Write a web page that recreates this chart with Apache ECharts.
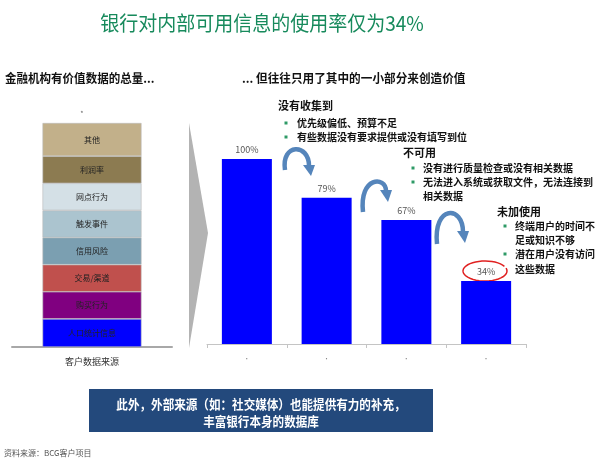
<!DOCTYPE html>
<html><head><meta charset="utf-8">
<script src="https://cdn.jsdelivr.net/npm/echarts@6/dist/echarts.min.js"></script>
<style>html,body{margin:0;padding:0;background:#fff}#c{width:600px;height:464px}</style>
</head><body><div id="c"></div>
<script>
const titleText = '银行对内部可用信息的使用率仅为34%';
const leftHeading = '金融机构有价值数据的总量...';
const rightHeading = '... 但往往只用了其中的一小部分来创造价值';
const leftCategories = ['客户数据来源'];
const segmentNames = ['人口统计信息', '购买行为', '交易/渠道', '信用风险', '触发事件', '网点行为', '利润率', '其他'];
const segmentValues = [28, 27, 27, 27, 27, 27, 27, 33];
const segmentColors = ['#0000ff', '#800080', '#c0504d', '#7b9fb1', '#abc4cf', '#d4e0e6', '#8c7b51', '#c2b08a'];
const stageTicks = ['•', '•', '•', '•'];
const usageValues = [100, 79, 67, 34];
const note1Title = '没有收集到';
const note1Items = ['优先级偏低、预算不足', '有些数据没有要求提供或没有填写到位'];
const note2Title = '不可用';
const note2Lines = ['没有进行质量检查或没有相关数据', '无法进入系统或获取文件，无法连接到', '相关数据'];
const note3Title = '未加使用';
const note3Lines = ['终端用户的时间不', '足或知识不够', '潜在用户没有访问', '这些数据'];
const boxLines = ['此外，外部来源（如：社交媒体）也能提供有力的补充，', '丰富银行本身的数据库'];
const sourceText = '资料来源：BCG客户项目';

const FONT = '"Noto Sans CJK SC", "Noto Sans", sans-serif';
const chart = echarts.init(document.getElementById('c'), null, {renderer: 'canvas'});

const stackSeries = segmentNames.map((n, i) => ({
  name: n, type: 'bar', stack: 'total', xAxisIndex: 0, yAxisIndex: 0,
  barWidth: 99, data: [segmentValues[i]],
  itemStyle: {color: segmentColors[i], borderColor: '#b8b8b8', borderWidth: 0.6},
  label: {show: true, position: 'inside', formatter: n, fontSize: 8, color: '#222', fontFamily: FONT},
  silent: true
}));

function txt(x, y, text, font, fill, align, sx) {
  return {type: 'text', x: x, y: y, scaleX: sx || 1, silent: true,
    style: {text: text, font: font, fill: fill || '#111', textAlign: align || 'left', textVerticalAlign: 'middle'}};
}
function bullet(x, y) {
  return {type: 'rect', silent: true, shape: {x: x - 1.5, y: y - 1.5, width: 3, height: 3}, style: {fill: '#2e9a66'}};
}
function arrow(t, c1, c2, e, tip) {
  return [
    {type: 'bezierCurve', silent: true,
      shape: {x1: t[0], y1: t[1], cpx1: c1[0], cpy1: c1[1], cpx2: c2[0], cpy2: c2[1], x2: e[0], y2: e[1]},
      style: {stroke: '#5585bb', lineWidth: 4.5, fill: null}},
    {type: 'polygon', silent: true,
      shape: {points: [[e[0] - 6, e[1] - 1], [e[0] + 6, e[1] - 1], tip]},
      style: {fill: '#5585bb'}}
  ];
}
const ellipsePts = [];
for (let k = 0; k <= 40; k++) {
  const a = -0.3 + k / 40 * Math.PI * 2 * 0.97;
  ellipsePts.push([485 + 22 * Math.cos(a), 271 + 10 * Math.sin(a)]);
}

const bf = 'bold 10px ' + FONT;
const hf = 'bold 11px ' + FONT;
const graphics = [
  txt(262, 23, titleText, '20px ' + FONT, '#178a5c', 'center', 0.95),
  txt(5, 78, leftHeading, 'bold 12px ' + FONT, '#111', 'left', 0.96),
  txt(242, 78, rightHeading, 'bold 12px ' + FONT, '#111', 'left', 0.97),
  txt(82, 113, '*', '7px ' + FONT, '#666', 'center'),
  {type: 'polygon', silent: true, shape: {points: [[189, 123], [208, 233], [189, 348]]}, style: {fill: '#b3b3b3'}},
  txt(278, 106, note1Title, hf),
  bullet(286, 123), txt(297, 123, note1Items[0], bf),
  bullet(286, 137), txt(297, 137, note1Items[1], bf),
  txt(403, 153, note2Title, hf),
  bullet(413, 168), txt(423, 168, note2Lines[0], bf),
  bullet(413, 182), txt(423, 182, note2Lines[1], bf),
  txt(423, 196, note2Lines[2], bf),
  txt(497, 212, note3Title, hf),
  bullet(505, 226), txt(515, 226, note3Lines[0], bf),
  txt(515, 240, note3Lines[1], bf),
  bullet(505, 254), txt(515, 254, note3Lines[2], bf),
  txt(515, 269, note3Lines[3], bf),
  {type: 'polyline', silent: true, shape: {points: ellipsePts}, style: {stroke: '#e02020', lineWidth: 1.5, fill: null}},
  {type: 'rect', silent: true, shape: {x: 89, y: 389, width: 344, height: 43}, style: {fill: '#23497c'}},
  txt(261, 404, boxLines[0], 'bold 13px ' + FONT, '#fff', 'center', 0.89),
  txt(261, 421, boxLines[1], 'bold 13px ' + FONT, '#fff', 'center', 0.89),
  txt(4, 453, sourceText, '8px ' + FONT, '#555')
].concat(
  arrow([285, 170], [281, 143], [309, 143], [309, 166], [311, 176]),
  arrow([363, 212], [359, 176], [386, 176], [386, 191], [388, 202]),
  arrow([437, 244], [433, 205], [463, 205], [463, 232], [465, 243])
);

chart.setOption({
  animation: false,
  textStyle: {fontFamily: FONT},
  grid: [
    {left: 12, width: 160, top: 123, bottom: 117},
    {left: 207, right: 74, top: 159, bottom: 120}
  ],
  xAxis: [
    {type: 'category', gridIndex: 0, data: leftCategories,
      axisLine: {lineStyle: {color: '#a8a8a8', width: 2}}, axisTick: {show: false},
      axisLabel: {fontSize: 9, color: '#333', margin: 10}},
    {type: 'category', gridIndex: 1, data: stageTicks,
      axisLine: {lineStyle: {color: '#c4c4c4', width: 1}},
      axisTick: {show: true, length: 4, lineStyle: {color: '#c4c4c4'}},
      axisLabel: {fontSize: 6, color: '#777', margin: 12}}
  ],
  yAxis: [
    {type: 'value', gridIndex: 0, min: 0, max: 223, show: false},
    {type: 'value', gridIndex: 1, min: 0, max: 100, show: false}
  ],
  series: stackSeries.concat([{
    type: 'bar', xAxisIndex: 1, yAxisIndex: 1, barWidth: 50, data: usageValues,
    itemStyle: {color: '#0000ff'}, silent: true,
    label: {show: true, position: 'top', distance: 5, formatter: '{c}%', fontSize: 9, color: '#555'}
  }]),
  graphic: graphics
});
</script></body></html>
